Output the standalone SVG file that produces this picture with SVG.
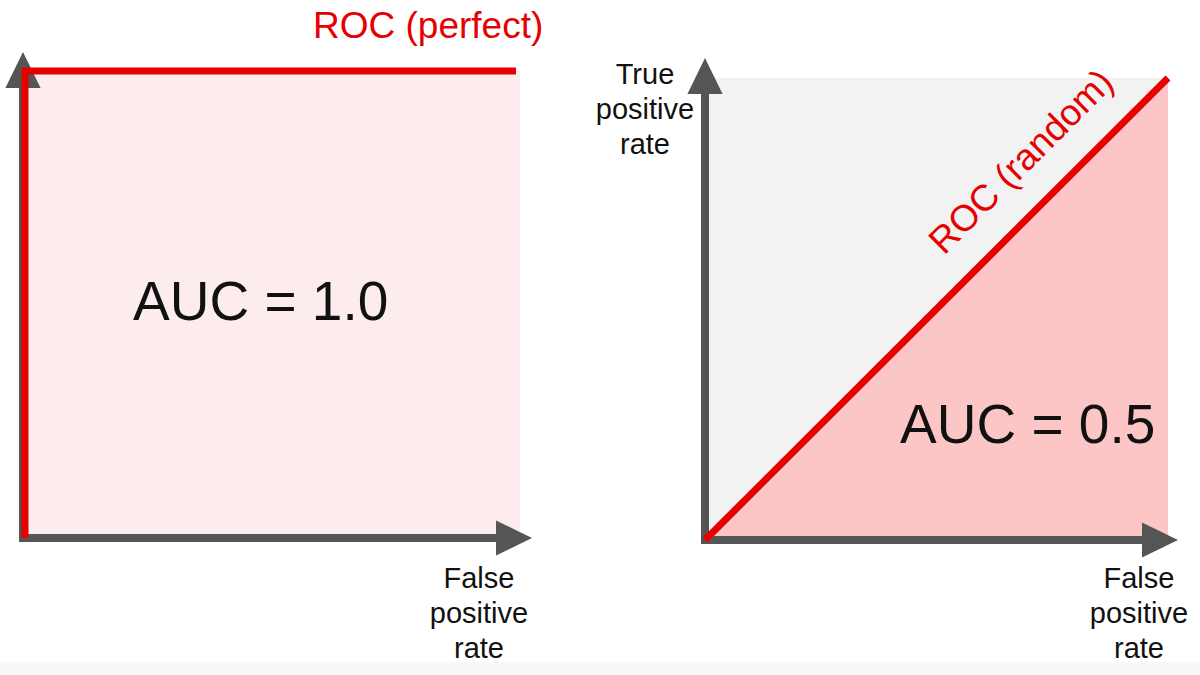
<svg xmlns="http://www.w3.org/2000/svg" width="1200" height="675" viewBox="0 0 1200 675">
<style>
.ax{stroke:#555;stroke-width:8;fill:none}
.roc{stroke:#e60000;stroke-width:7;fill:none}
.t{font-family:"Helvetica","Liberation Sans",Arial,sans-serif;fill:#111}
.lbl{font-size:29px;text-anchor:middle}
.auc{font-size:55px}
.red{fill:#e60000;font-size:37px}
</style>
<defs>
<marker id="ah" markerWidth="4.5" markerHeight="4.4" refX="1" refY="2.2" orient="auto" markerUnits="strokeWidth"><path d="M0,0 L4.5,2.2 L0,4.4 Z" fill="#555"/></marker>
</defs>
<rect width="1200" height="675" fill="#fff"/>
<rect y="662" width="1200" height="13" fill="#f8f8f8"/>
<g id="left-chart">
<rect x="23" y="71" width="497" height="467" fill="#fdeced"/>
<text class="t auc" x="133" y="320">AUC = 1.0</text>
<text class="t red" x="313" y="38">ROC (perfect)</text>
<text class="t lbl" x="-25" y="143">rate</text>
<text class="t lbl" x="479" y="588">False</text>
<text class="t lbl" x="479" y="623">positive</text>
<text class="t lbl" x="479" y="658">rate</text>
</g>
<g id="right-chart">
<polygon points="705,78 1168,78 705,540" fill="#f2f2f2"/>
<polygon points="705,540 1168,78 1168,540" fill="#fdc6c6"/>
<text class="t auc" x="900" y="443">AUC = 0.5</text>
<text class="t red" x="0" y="0" transform="translate(944,256) rotate(-45)">ROC (random)</text>
<text class="t lbl" x="645" y="84">True</text>
<text class="t lbl" x="645" y="119">positive</text>
<text class="t lbl" x="645" y="154">rate</text>
<text class="t lbl" x="1139" y="588">False</text>
<text class="t lbl" x="1139" y="623">positive</text>
<text class="t lbl" x="1139" y="658">rate</text>
</g>
<g id="connectors">
<line class="ax" x1="23" y1="542" x2="23" y2="80" marker-end="url(#ah)"/>
<line class="ax" x1="19" y1="538" x2="504" y2="538" marker-end="url(#ah)"/>
<path class="roc" d="M25,538 V71 H516"/>
<line class="ax" x1="705" y1="544" x2="705" y2="86" marker-end="url(#ah)"/>
<line class="ax" x1="701" y1="540" x2="1150" y2="540" marker-end="url(#ah)"/>
<line class="roc" x1="705" y1="540" x2="1168" y2="78"/>
</g>
</svg>
